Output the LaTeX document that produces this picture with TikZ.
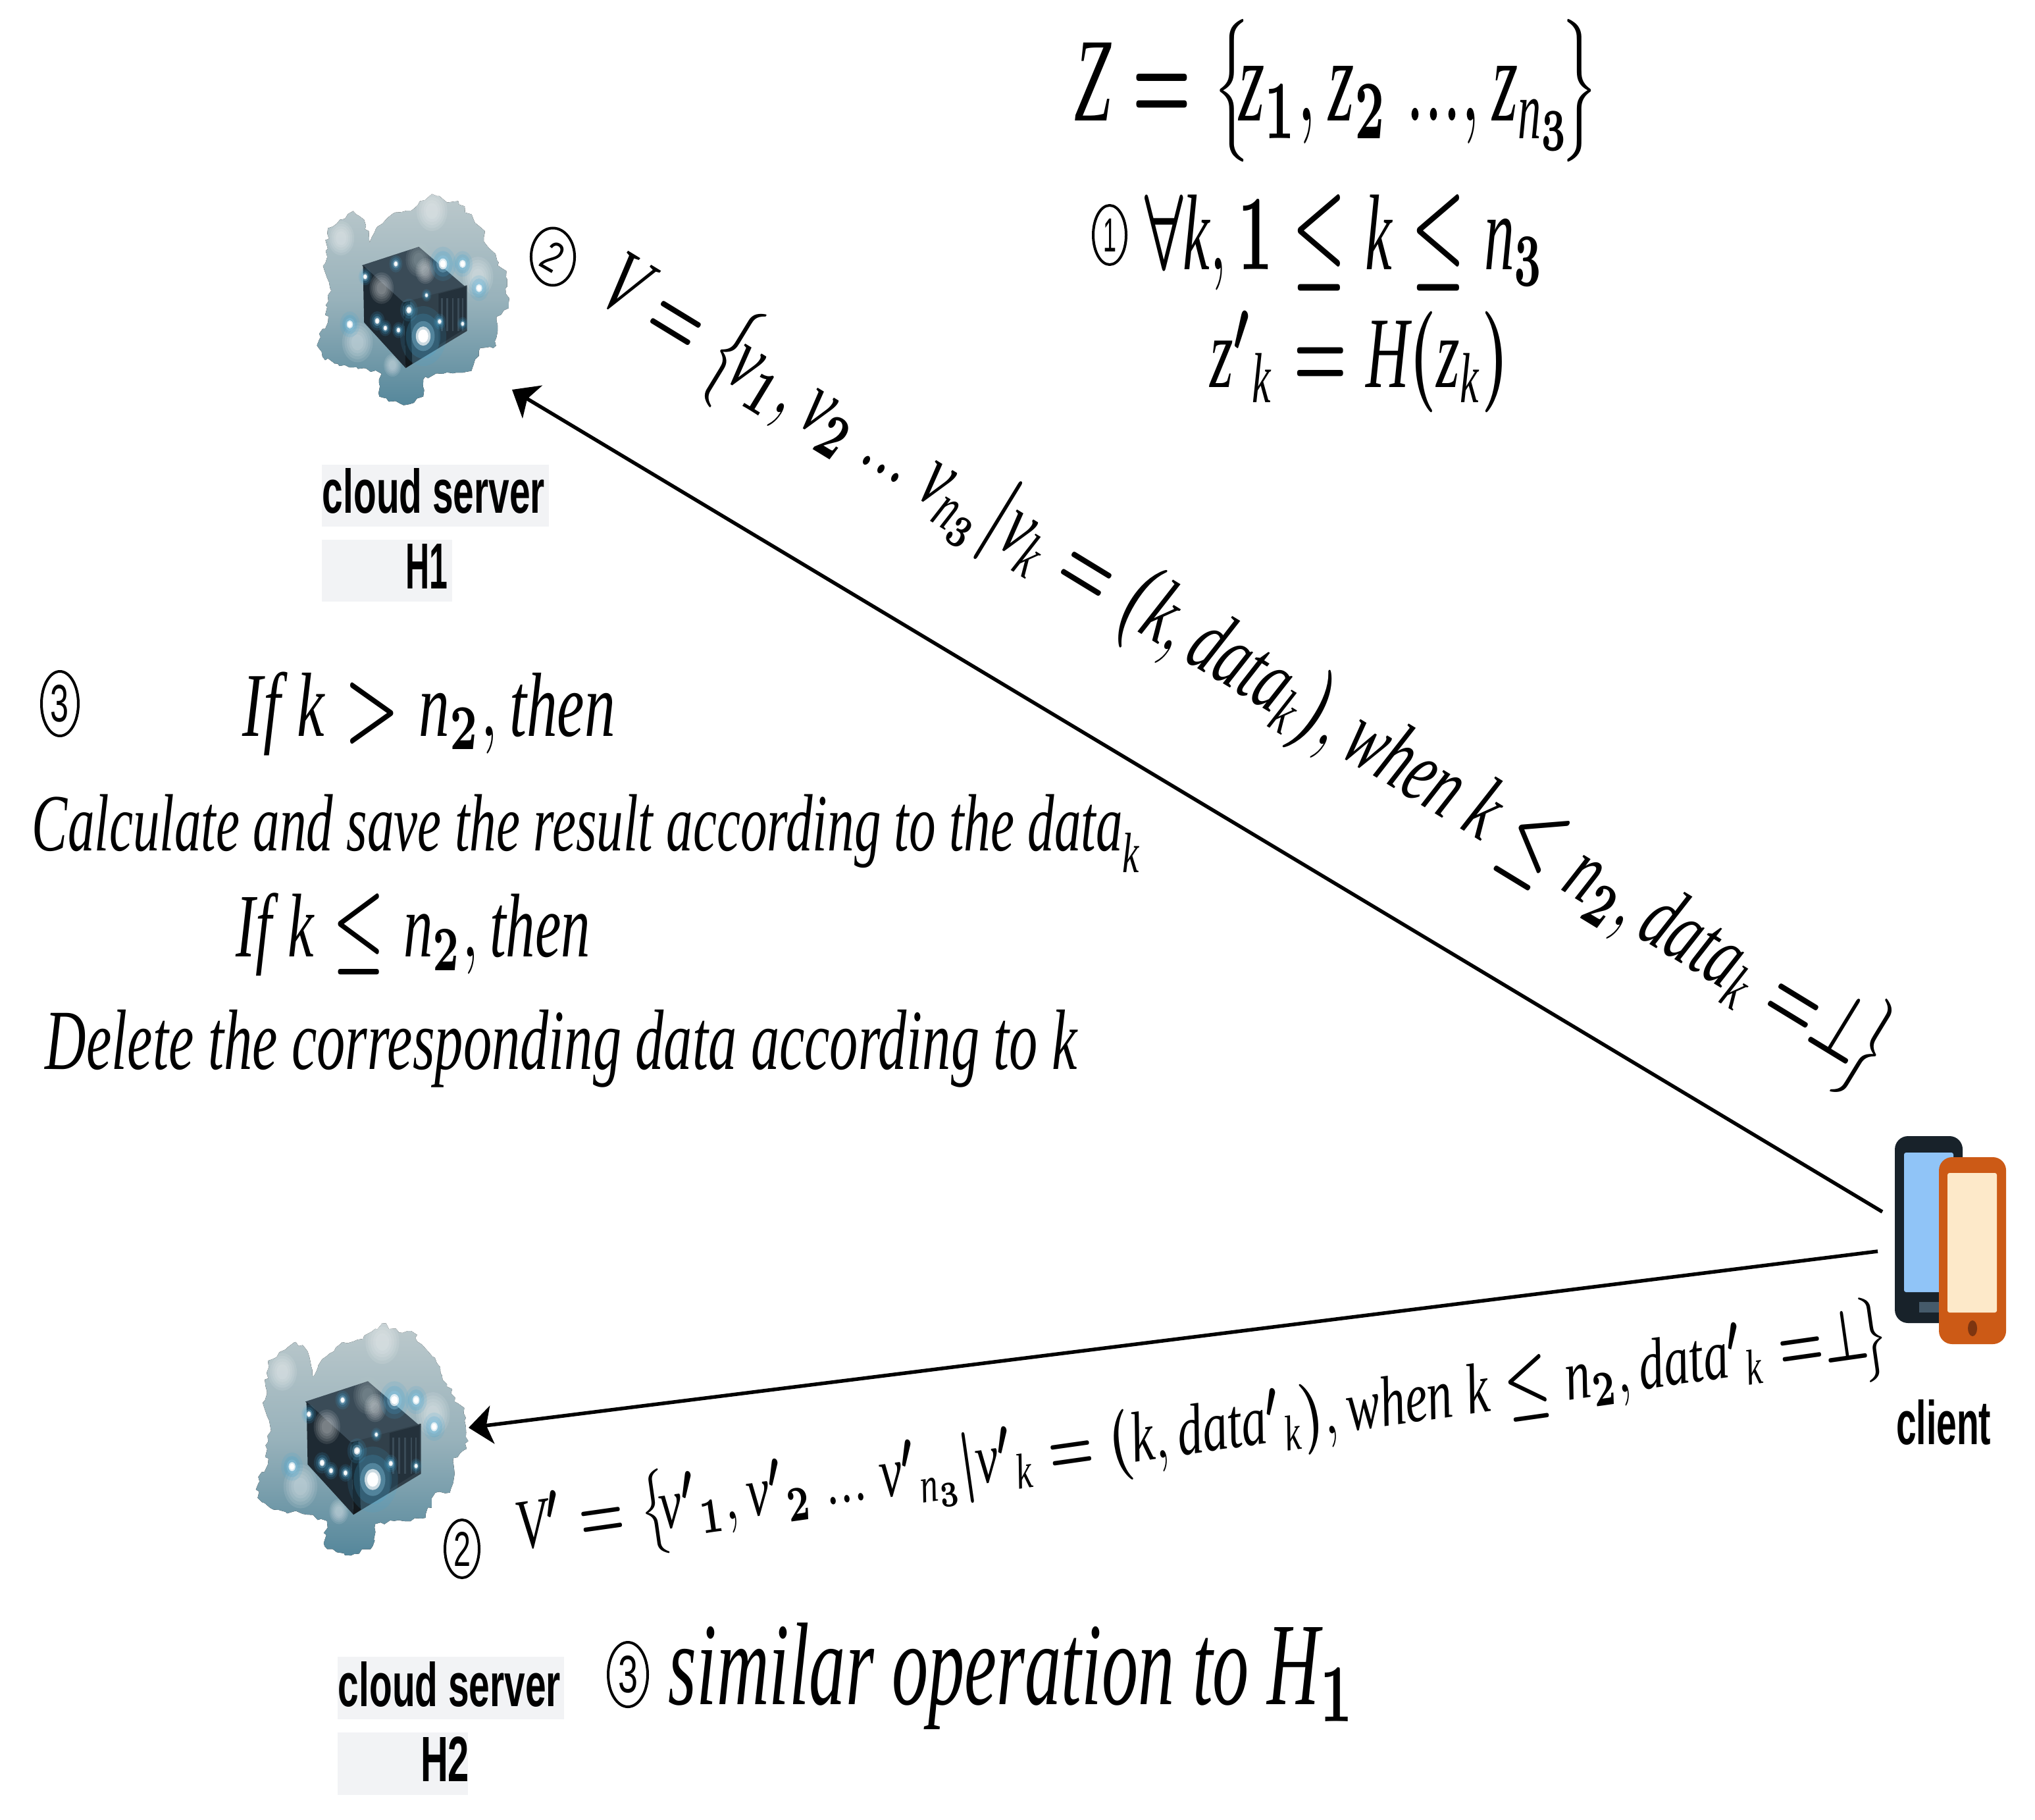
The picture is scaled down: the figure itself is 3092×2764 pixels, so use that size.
\documentclass[tikz,border=0pt]{standalone}
\usepackage{graphicx}
\usepackage{fontspec}
\setmainfont{Liberation Sans}
\newfontfamily\wordfont[NFSSFamily=lserif]{Liberation Serif}
\usetikzlibrary{arrows.meta,shapes.geometric,decorations.pathmorphing}
\DeclareSymbolFont{wordit}{TU}{lserif}{m}{it}
\SetSymbolFont{wordit}{bold}{TU}{lserif}{m}{it}
\DeclareSymbolFont{wordup}{OT1}{cmr}{m}{n}
\SetSymbolFont{wordup}{bold}{OT1}{cmr}{m}{n}
\newcommand\setlt[1]{\Umathcode`#1=7 \symwordit `#1\relax}
\newcommand\setdg[1]{\Umathcode`#1=7 \symwordup `#1\relax}
\makeatletter
\@tfor\lt@r:=abcdefghijklmnopqrstuvwxyzABCDEFGHIJKLMNOPQRSTUVWXYZ\do{%
  \expandafter\setlt\expandafter{\lt@r}}
\@tfor\lt@r:=0123456789.\do{%
  \expandafter\setdg\expandafter{\lt@r}}
\makeatother
\Umathcode`,=6 \symwordup `,\relax
\newdimen\pxu \pxu=0.01cm
\definecolor{labelbg}{HTML}{F2F3F5}
\definecolor{phonedark}{HTML}{18222A}
\definecolor{phoneblue}{HTML}{90C4F7}
\definecolor{phonebtn}{HTML}{455A6A}
\definecolor{phoneorange}{HTML}{CC5A16}
\definecolor{phonecream}{HTML}{FDE9C9}
\definecolor{phonehome}{HTML}{7D3510}
\definecolor{cloudtop}{HTML}{BCC9CC}
\definecolor{cloudbot}{HTML}{55879B}
\definecolor{boxdark}{HTML}{1E2A33}
\definecolor{boxmid}{HTML}{3A4B57}
\definecolor{glowblue}{HTML}{3FA6D6}
\newcommand\ti[1]{\mbox{\wordfont\itshape #1}}
\newcommand\fitlabel[7][0]{\node[inner sep=0pt,rotate=#1] (#2) at (#3,#4) {\resizebox*{#5\pxu}{#6\pxu}{\boldmath #7}};}
\newcommand\boldlabel[6]{\node[inner sep=0pt,anchor=base] (#1) at (#2,#3) {\resizebox{#4\pxu}{#5\pxu}{\bfseries #6}};}
\newcommand\glow[3]{%
  \fill[glowblue,opacity=.14] (#1,#2) circle[radius=#3];
  \fill[glowblue,opacity=.2] (#1,#2) circle[radius=.75*#3];
  \fill[glowblue!60!white,opacity=.35] (#1,#2) circle[radius=.5*#3];
  \fill[white,opacity=.7] (#1,#2) circle[radius=.32*#3];
  \fill[white] (#1,#2) circle[radius=.22*#3];}
\newcommand\softblob[4]{%
  \foreach \gr in {1,.85,.7,.55,.4}{\fill[#4,opacity=.1] (#1,#2) circle[radius=\gr*#3];}}
\newcommand\cloudicon[3]{%
\begin{scope}[shift={(#1,#2)},x=#3*0.003333cm,y=-#3*0.004336cm]
  \pgfmathsetseed{17}
  \fill[top color=cloudtop,bottom color=cloudbot,middle color=cloudtop!65!cloudbot,
        decorate,decoration={random steps,segment length=2pt,amplitude=.9pt}]
    (125,610)--(135,570)--(175,530)--(165,470)--(185,410)--(160,350)--(165,280)--(175,200)--(230,170)--(290,140)--(340,170)--(365,250)
    --(400,195)--(470,150)--(570,130)--(650,80)--(720,110)--(770,105)--(840,170)--(890,220)--(900,260)
    --(940,290)--(950,330)--(990,350)--(1000,480)--(945,510)--(950,560)--(930,620)--(870,620)--(830,700)
    --(700,710)--(620,720)--(610,790)--(520,820)--(410,790)--(420,710)--(340,690)--(220,675)--(150,650)--cycle;
  \softblob{235}{235}{60}{white}
  \softblob{310}{600}{70}{white}
  \softblob{650}{140}{70}{white}
  \softblob{860}{370}{70}{white}
  \softblob{470}{680}{40}{white}
  % server box
  \fill[boxmid] (330,330)--(590,265)--(810,410)--(525,465)--cycle;
  \fill[boxdark] (335,330)--(520,460)--(530,690)--(340,530)--cycle;
  \fill[boxmid!85!black] (520,460)--(810,400)--(810,560)--(530,690)--cycle;
  \softblob{590}{310}{60}{cloudtop}
  \softblob{620}{350}{45}{white}
  \softblob{420}{410}{55}{white}
  \fill[boxdark,opacity=.65] (680,430)--(805,405)--(805,550)--(680,610)--cycle;
  \foreach \rx in {695,720,745,770,790}{\draw[boxmid,line width=.25mm] (\rx,445)--(\rx,560);}
  \fill[black,opacity=.6] (520,460)--(550,455)--(560,675)--(530,690)--cycle;
  \glow{345}{370}{30}
  \glow{485}{325}{30}
  \glow{700}{325}{60}
  \glow{790}{325}{45}
  \glow{865}{410}{45}
  \glow{625}{435}{22}
  \glow{545}{487}{40}
  \glow{400}{525}{34}
  \glow{437}{550}{28}
  \glow{497}{557}{28}
  \glow{610}{578}{105}
  \glow{685}{527}{28}
  \glow{790}{535}{24}
  \glow{275}{537}{45}
\end{scope}}
\begin{document}
\begin{tikzpicture}[x=0.01cm,y=-0.01cm,
  labelbox/.style={fill=labelbg,draw=none},
  flowarrow/.style={line width=0.55mm,-{Stealth[length=3.6mm,width=5.8mm,inset=0.9mm]}},
  stepmark/.style={draw=black,ellipse,line width=0.4mm,inner sep=0pt,fill=none}]
\useasboundingbox (0,0) rectangle (3092,2764);
\fill[white] (0,0) rectangle (3092,2764);

% clouds
\cloudicon{440}{260}{1}
\cloudicon{343}{1972}{1.1}

% label backgrounds
\fill[labelbox] (489,706) rectangle (834,800);
\fill[labelbox] (489,820) rectangle (687,914);
\fill[labelbox] (513,2517) rectangle (857,2612);
\fill[labelbox] (513,2632) rectangle (711,2727);

\boldlabel{lblcsa}{659}{779}{338}{68}{cloud server}
\boldlabel{lblha}{648}{894}{64}{68}{H1}
\boldlabel{lblcsb}{683}{2592}{338}{68}{cloud server}
\boldlabel{lblhb}{676}{2706}{74}{68}{H2}
\boldlabel{lblclient}{2953}{2194}{144}{68}{client}

% phones
\fill[phonedark,rounded corners=20\pxu] (2879,1726) rectangle (2982,2010);
\fill[phoneblue,rounded corners=3\pxu] (2893,1751) rectangle (2968,1963);
\fill[phonebtn] (2916,1978) rectangle (2950,1994);
\fill[phoneorange,rounded corners=20\pxu] (2946,1758) rectangle (3048,2042);
\fill[phonecream,rounded corners=3\pxu] (2959,1782) rectangle (3034,1994);
\fill[phonehome] (2997,2018) ellipse[x radius=7,y radius=12];

% connectors
\coordinate (clientup) at (2860,1841);
\coordinate (clientdown) at (2853,1901);
\coordinate (hoinput) at (778,592);
\coordinate (htinput) at (712,2169);
\draw[flowarrow] (clientup) -- (hoinput);
\draw[flowarrow] (clientdown) -- (htinput);

% formulae
\fitlabel{zset}{2031}{138}{797}{217}{$Z=\bigl\{\!z_1,z_2\ {...},z_{n_3}\!\bigr\}$}
\fitlabel{forallk}{2043}{369}{608}{146}{$\forall k,1\le k\le n_3$}
\fitlabel{hashk}{2065}{550}{454}{154}{$z'{}_k=H(z_k)$}
\fitlabel[-31.4]{vset}{1890}{1018}{2270}{165}{$V=\bigl\{\!v_1,v_2\ {...}\ v_{n_3}|v_k=(k,data_k),when\ k\le n_2,data_k=\perp\!\bigr\}$}
\fitlabel[8.1]{vpset}{1827}{2179}{2104}{130}{$V'=\bigl\{\!v'{}_1,v'{}_2\ {...}\ v'{}_{n_3}|v'{}_k=(k,data'{}_k),when\ k\le n_2,data'{}_k=\perp\!\bigr\}$}
\fitlabel{ifgt}{652}{1084}{566}{127}{$If\ k>n_2,then$}
\fitlabel{calc}{892}{1266}{1686}{118}{$\ti{Calculate and save the result according to the data}_k$}
\fitlabel{ifle}{628}{1420}{538}{126}{$If\ k\le n_2,then$}
\fitlabel{delete}{853}{1593}{1568}{118}{\ti{Delete the corresponding data according to k}}
\fitlabel{similar}{1538}{2546}{1045}{162}{$\ti{similar operation to }H_1$}

% circled step numbers
\node[stepmark,minimum width=50\pxu,minimum height=90\pxu] (stepone) at (1686,357) {\resizebox{20\pxu}{50\pxu}{1}};
\node[stepmark,minimum width=53\pxu,minimum height=87\pxu] (steptwoa) at (840,390) {\rotatebox{-30}{\resizebox{28\pxu}{45\pxu}{2}}};
\node[stepmark,minimum width=52\pxu,minimum height=88\pxu] (steptwob) at (702,2353) {\resizebox{26\pxu}{52\pxu}{2}};
\node[stepmark,minimum width=56\pxu,minimum height=98\pxu] (stepthreea) at (91,1069) {\resizebox{28\pxu}{56\pxu}{3}};
\node[stepmark,minimum width=60\pxu,minimum height=98\pxu] (stepthreeb) at (954,2544) {\resizebox{30\pxu}{56\pxu}{3}};
\end{tikzpicture}
\end{document}
